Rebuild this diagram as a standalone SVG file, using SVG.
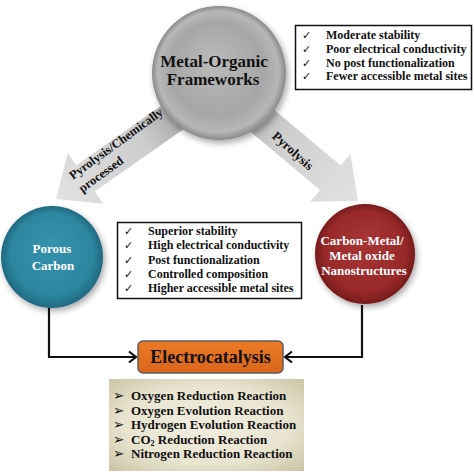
<svg xmlns="http://www.w3.org/2000/svg" width="474" height="474" viewBox="0 0 474 474">
<style>
  .t{font-family:"Liberation Serif","DejaVu Serif",serif;font-weight:bold;fill:#111}
  .ck{font-family:"DejaVu Sans",sans-serif;font-size:11px;fill:#111}
  .bl{font-family:"DejaVu Sans",sans-serif;font-size:13.5px;fill:#111}
  .li{font-size:12px}
  .rx{font-size:13px}
  .wt{font-family:"Liberation Serif","DejaVu Serif",serif;font-weight:bold;font-size:13px;fill:#fff;text-anchor:middle}
  .box{fill:#fff;stroke:#111;stroke-width:1.5}
  .conn{fill:none;stroke:#111;stroke-width:2.2}
  .garrow{stroke:none}
</style>
<defs>
  <radialGradient id="gMof" cx="0.5" cy="0.5" r="0.5" fx="0.45" fy="0.4">
    <stop offset="0" stop-color="#bbbbbb"/>
    <stop offset="0.7" stop-color="#a6a6a6"/>
    <stop offset="0.9" stop-color="#b7b7b7"/>
    <stop offset="1" stop-color="#8a8a8a"/>
  </radialGradient>
  <radialGradient id="gTeal" cx="0.5" cy="0.5" r="0.5" fx="0.5" fy="0.35">
    <stop offset="0" stop-color="#3592ad"/>
    <stop offset="0.8" stop-color="#2d86a0"/>
    <stop offset="1" stop-color="#1f6a80"/>
  </radialGradient>
  <radialGradient id="gRed" cx="0.5" cy="0.5" r="0.5" fx="0.5" fy="0.35">
    <stop offset="0" stop-color="#a83535"/>
    <stop offset="0.8" stop-color="#992a2a"/>
    <stop offset="1" stop-color="#771c1c"/>
  </radialGradient>
  <linearGradient id="gArrow" gradientUnits="userSpaceOnUse" x1="-160" y1="0" x2="0" y2="0">
    <stop offset="0" stop-color="#9e9e9e"/>
    <stop offset="0.35" stop-color="#cdcdcd"/>
    <stop offset="1" stop-color="#e2e2e2"/>
  </linearGradient>
  <linearGradient id="gOrange" x1="0" y1="0" x2="0" y2="1">
    <stop offset="0" stop-color="#ec7a26"/>
    <stop offset="1" stop-color="#d9661a"/>
  </linearGradient>
  <radialGradient id="gBeige" cx="0.5" cy="0.5" r="0.7">
    <stop offset="0" stop-color="#f1eee0"/>
    <stop offset="0.6" stop-color="#e8e4d0"/>
    <stop offset="1" stop-color="#cbc5a6"/>
  </radialGradient>
  <filter id="sh" x="-20%" y="-20%" width="150%" height="150%">
    <feGaussianBlur in="SourceAlpha" stdDeviation="3"/>
    <feOffset dx="2" dy="3" result="b"/>
    <feComponentTransfer><feFuncA type="linear" slope="0.35"/></feComponentTransfer>
    <feMerge><feMergeNode/><feMergeNode in="SourceGraphic"/></feMerge>
  </filter>
  <marker id="chev" markerUnits="userSpaceOnUse" markerWidth="14" markerHeight="14" viewBox="-10 -7 14 14" refX="0" refY="0" orient="auto">
    <path d="M-7,-5.5 L0,0 L-7,5.5" fill="none" stroke="#111" stroke-width="2.2"/>
  </marker>
</defs>

<g id="connectors">
  <g id="arrow-pyrolysis-chem" transform="translate(56,199) rotate(145)">
    <path class="garrow" fill="url(#gArrow)" d="M-160,-16 L-36,-16 L-36,-31 L0,0 L-36,31 L-36,16 L-160,16 Z"/>
  </g>
  <g id="arrow-pyrolysis" transform="translate(358,201) rotate(40)">
    <path class="garrow" fill="url(#gArrow)" d="M-160,-16 L-36,-16 L-36,-31 L0,0 L-36,31 L-36,16 L-160,16 Z"/>
  </g>
  <g transform="translate(73,180) rotate(-36)">
    <text class="t" font-size="12.5" x="0" y="0">Pyrolysis/Chemically</text>
    <text class="t" font-size="12.5" x="0" y="16">processed</text>
  </g>
  <text class="t" font-size="13" text-anchor="middle" transform="translate(290,154) rotate(42)">Pyrolysis</text>
  <path class="conn" d="M49,307 V357 H136" marker-end="url(#chev)"/>
  <path class="conn" d="M362,305 V357 H285" marker-end="url(#chev)"/>
</g>

<g id="node-mof">
  <circle cx="219" cy="73" r="67" fill="url(#gMof)" filter="url(#sh)"/>
  <text class="t" font-size="17" text-anchor="middle" x="214" y="67">Metal-Organic</text>
  <text class="t" font-size="17" text-anchor="middle" x="213" y="85">Frameworks</text>
</g>

<g id="box-mof-props">
  <rect class="box" x="295.5" y="25.5" width="176" height="64"/>
  <text class="ck" x="302" y="39">✓</text>
  <text class="ck" x="302" y="53">✓</text>
  <text class="ck" x="302" y="66.5">✓</text>
  <text class="ck" x="302" y="80">✓</text>
  <text class="t li" x="326" y="39">Moderate stability</text>
  <text class="t li" x="326" y="53">Poor electrical conductivity</text>
  <text class="t li" x="326" y="66.5">No post functionalization</text>
  <text class="t li" x="326" y="80">Fewer accessible metal sites</text>
</g>

<g id="node-porous">
  <circle cx="52" cy="257" r="51" fill="url(#gTeal)" filter="url(#sh)"/>
  <text class="wt" x="52" y="253">Porous</text>
  <text class="wt" x="53" y="270">Carbon</text>
</g>

<g id="box-carbon-props">
  <rect class="box" x="117.5" y="222.5" width="184" height="76"/>
  <text class="ck" x="124" y="235">✓</text>
  <text class="ck" x="124" y="249">✓</text>
  <text class="ck" x="124" y="263.5">✓</text>
  <text class="ck" x="124" y="278">✓</text>
  <text class="ck" x="124" y="292">✓</text>
  <text class="t li" x="148" y="235">Superior stability</text>
  <text class="t li" x="148" y="249">High electrical conductivity</text>
  <text class="t li" x="148" y="263.5">Post functionalization</text>
  <text class="t li" x="148" y="278">Controlled composition</text>
  <text class="t li" x="148" y="292">Higher accessible metal sites</text>
</g>

<g id="node-cmno">
  <circle cx="365" cy="254" r="50" fill="url(#gRed)" filter="url(#sh)"/>
  <text class="wt" x="362" y="245">Carbon-Metal/</text>
  <text class="wt" x="362" y="260">Metal oxide</text>
  <text class="wt" x="364" y="275">Nanostructures</text>
</g>

<g id="node-electro">
  <rect x="138" y="341" width="145" height="32" rx="5" fill="url(#gOrange)" stroke="#5c5c5c" stroke-width="1.5"/>
  <text class="t" font-size="18" text-anchor="middle" x="210.5" y="363" fill="#3a1606">Electrocatalysis</text>
</g>

<g id="box-reactions">
  <rect x="109" y="379" width="195" height="92" fill="url(#gBeige)"/>
  <text class="bl" x="113" y="400">➢</text>
  <text class="bl" x="113" y="414.5">➢</text>
  <text class="bl" x="113" y="429">➢</text>
  <text class="bl" x="113" y="443.5">➢</text>
  <text class="bl" x="113" y="458">➢</text>
  <text class="t rx" x="131" y="400">Oxygen Reduction Reaction</text>
  <text class="t rx" x="131" y="414.5">Oxygen Evolution Reaction</text>
  <text class="t rx" x="131" y="429">Hydrogen Evolution Reaction</text>
  <text class="t rx" x="131" y="443.5">CO<tspan font-size="8" baseline-shift="-1.5">2</tspan> Reduction Reaction</text>
  <text class="t rx" x="131" y="458">Nitrogen Reduction Reaction</text>
</g>
</svg>
